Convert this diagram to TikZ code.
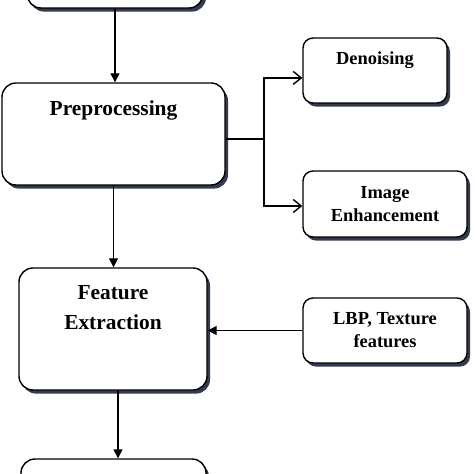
\documentclass[tikz,border=0pt]{standalone}
\usepackage{fontspec}
\setmainfont{Liberation Serif}
\usetikzlibrary{arrows.meta,shadows}

\definecolor{shadowblue}{RGB}{30,38,60}

\begin{document}
\begin{tikzpicture}[x=0.5pt,y=-0.5pt,line width=0.7pt,draw=black,
	box/.style={draw,rounded corners=7pt,fill=white,font=\bfseries,
		drop shadow={shadow xshift=1.5pt,shadow yshift=-1.8pt,fill=shadowblue,opacity=0.9}},
	big/.style={box,font=\bfseries\fontsize{10.7}{15}\selectfont},
	small/.style={box,rounded corners=5pt,align=center,font=\bfseries\fontsize{9.2}{11.5}\selectfont},
	flow/.style={-{Triangle[length=4.5pt,width=4.5pt]}},
	branch/.style={-{Straight Barb[length=4pt,width=6.5pt]}}]

\useasboundingbox (0,0) rectangle (474,474);

\node[big,minimum width=88pt,minimum height=30pt]     (input) at (115,-22)    {};
\node[big,minimum width=111.5pt,minimum height=51pt,
	label={[anchor=north,inner sep=0pt,yshift=-9pt,font=\bfseries\fontsize{10.7}{15}\selectfont]north:Preprocessing}]
	(pre) at (113.5,134) {};
\node[small,minimum width=72pt,minimum height=32.5pt,
	label={[anchor=north,inner sep=0pt,yshift=-6.7pt,font=\bfseries\fontsize{9.2}{11.5}\selectfont]north:Denoising}]
	(deno) at (375,70.5) {};
\node[small,minimum width=82pt,minimum height=33pt]   (enh) at (385,204)    {Image\\Enhancement};
\node[big,minimum width=94pt,minimum height=61pt,
	label={[anchor=north,inner sep=0pt,yshift=-8.7pt,align=center,font=\bfseries\fontsize{10.7}{15}\selectfont]north:Feature\\Extraction}]
	(feat) at (113,329) {};
\node[small,minimum width=82pt,minimum height=32.5pt] (lbp) at (385,330.5)  {LBP, Texture\\features};
\node[big,minimum width=92.5pt,minimum height=30pt]   (out) at (113.5,489)  {};

\coordinate (split) at (264,139);

% main flow
\draw[flow] (input) -- (input |- pre.north);
\draw[flow] (pre) -- (pre |- feat.north);
\draw[flow] ([xshift=2.5pt]feat.south) -- ([xshift=2.5pt]feat.south |- out.north);
\draw[flow] (lbp.west) -- (lbp.west -| feat.east);

% preprocessing steps
\draw ([yshift=-2.5pt]pre.east) -- (split);
\draw[branch] (split) |- ([yshift=-3.7pt]deno.west);
\draw[branch] (split) |- ([yshift=-1pt]enh.west);

\end{tikzpicture}
\end{document}
